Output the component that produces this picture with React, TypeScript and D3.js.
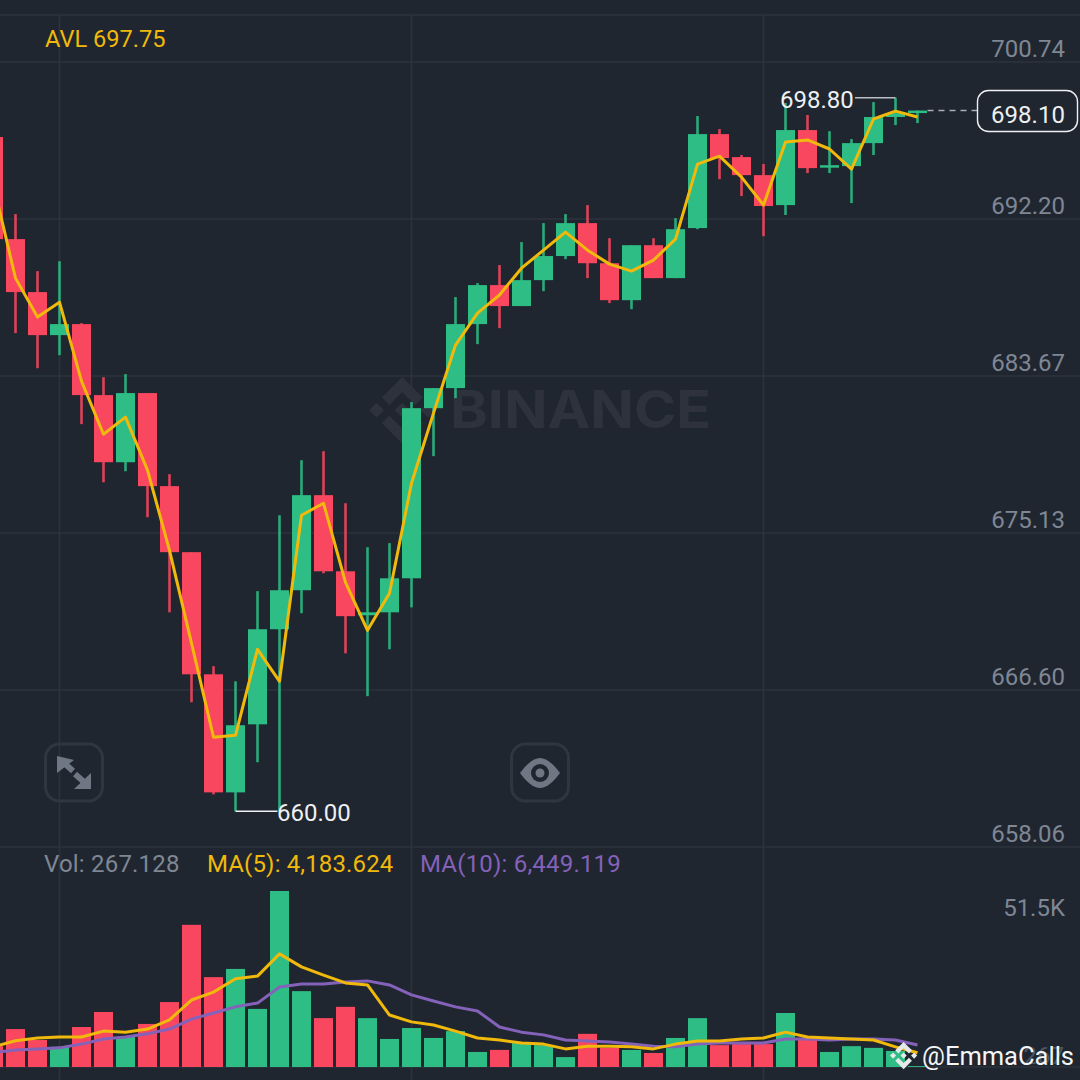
import { useEffect, useRef } from 'react';
import * as d3 from 'd3';

const SIZE = 1080;

// candle data, oldest first
const opens = [696.66, 691.11, 688.23, 685.89, 686.49, 682.63, 678.98, 682.74, 677.68, 674.09, 667.45, 661.03, 664.73, 669.9, 672.02, 677.19, 673.05, 670.66, 670.82, 672.67, 681.92, 683.01, 686.49, 688.61, 687.47, 688.88, 690.19, 691.98, 689.8, 687.79, 690.78, 688.99, 691.71, 696.82, 695.57, 694.59, 692.96, 697.04, 695.03, 695.08, 696.33, 697.75, 698.0];
const closes = [691.11, 688.23, 685.89, 686.49, 682.63, 678.98, 682.74, 677.68, 674.09, 667.45, 661.03, 664.68, 669.9, 672.02, 677.19, 673.05, 670.61, 670.82, 672.67, 681.92, 683.01, 686.49, 688.61, 687.47, 688.88, 690.19, 691.98, 689.8, 687.79, 690.78, 688.99, 691.65, 696.82, 695.52, 694.59, 692.91, 697.04, 694.97, 695.13, 696.33, 697.75, 697.96, 698.1];
const highs = [696.66, 692.47, 689.37, 689.91, 686.54, 683.6, 683.77, 682.74, 678.33, 674.09, 667.89, 667.07, 671.97, 676.1, 679.09, 679.58, 676.75, 674.36, 674.58, 682.25, 683.01, 687.96, 688.72, 689.7, 690.95, 691.98, 692.47, 692.96, 691.16, 690.78, 691.16, 692.25, 697.8, 697.09, 695.68, 695.19, 698.51, 697.86, 696.98, 696.55, 698.56, 698.8, 698.1];
const lows = [691.11, 686.0, 684.09, 684.8, 681.05, 677.89, 678.49, 675.99, 670.82, 665.93, 660.92, 660.0, 662.67, 660.0, 670.77, 672.94, 668.59, 666.26, 668.81, 671.09, 679.31, 682.46, 685.4, 686.27, 687.47, 688.28, 690.02, 688.99, 687.63, 687.3, 688.99, 688.99, 691.65, 694.37, 693.45, 691.27, 692.42, 694.7, 694.7, 693.07, 695.68, 697.31, 697.42];
const avl = [694.05, 688.99, 686.87, 687.68, 683.39, 680.5, 681.43, 678.55, 674.19, 669.14, 664.03, 664.13, 668.81, 667.07, 676.1, 676.75, 672.45, 669.84, 671.86, 677.84, 681.65, 685.35, 687.09, 688.07, 689.53, 690.51, 691.49, 690.51, 689.75, 689.37, 689.97, 691.11, 695.19, 695.62, 694.48, 692.96, 696.39, 696.5, 696.01, 694.92, 697.64, 698.07, 697.75];

// volume in thousands
const volumes = [6.1, 11.1, 7.9, 5.9, 11.7, 16.1, 8.8, 12.6, 19.0, 41.6, 26.3, 28.7, 17.0, 51.5, 22.2, 14.3, 17.6, 14.3, 8.2, 11.4, 8.5, 10.5, 4.4, 5.0, 7.0, 6.4, 2.9, 9.7, 5.6, 5.0, 4.1, 8.5, 14.3, 6.4, 6.7, 6.7, 15.8, 8.5, 4.4, 6.1, 5.6, 4.7, 0.267];
const volMa5 = [5.9, 7.7, 8.5, 8.8, 8.8, 10.5, 10.2, 11.1, 13.8, 19.6, 21.9, 25.8, 26.6, 33.1, 29.3, 26.9, 24.6, 24.0, 15.2, 13.2, 12.3, 10.5, 8.5, 7.9, 7.0, 6.7, 5.3, 6.1, 6.1, 5.9, 5.3, 6.7, 7.6, 7.6, 8.2, 8.5, 10.2, 8.8, 8.5, 8.2, 7.9, 5.9, 4.18];
const volMa10 = [4.2, 5.0, 5.3, 5.6, 6.7, 8.2, 8.8, 9.7, 11.1, 14.0, 15.8, 17.6, 18.7, 23.4, 24.3, 24.3, 24.9, 25.2, 24.0, 21.1, 19.3, 17.6, 16.4, 11.7, 10.2, 9.4, 7.9, 7.6, 7.3, 6.7, 6.1, 5.9, 6.7, 7.0, 7.0, 7.0, 8.2, 8.2, 7.9, 8.2, 8.2, 7.9, 6.45];

const priceTicks = ['700.74', '692.20', '683.67', '675.13', '666.60', '658.06'];
const verticalGridIndex = [3, 19, 35];

const BG = '#1f2630';
const GRID = '#2d333d';
const GREEN = '#2ebd85';
const RED = '#f8475f';
const YELLOW = '#f0b90b';
const PURPLE = '#8562b9';
const GRAY = '#7f8794';
const WHITE = '#eef0f2';
const ICON = '#6f7785';
const FONT = 'Roboto, sans-serif';

const LOGO_OUTER =
  'M38.73 53.2l24.59-24.58 24.6 24.6 14.3-14.31L63.32 0 24.42 38.9zM0 63.31l14.3-14.31 14.31 14.31-14.31 14.3zM38.73 73.41l24.59 24.59 24.6-24.6 14.31 14.29-38.9 38.91-38.91-38.88-.02-.02zM98 63.31l14.3-14.31 14.31 14.3-14.31 14.32z';
const LOGO_CENTER = 'M77.83 63.3L63.32 48.78 48.81 63.28l14.51 14.5z';

export default function App() {
  const svgRef = useRef<SVGSVGElement>(null);

  useEffect(() => {
    if (!svgRef.current) return;
    const svg = d3.select(svgRef.current);
    svg.selectAll('*').remove();

    const x = d3.scaleLinear().domain([0, 42]).range([-6.5, 917.5]);
    const yPrice = d3.scaleLinear().domain([658.06, 700.74]).range([847, 62]);
    const yVol = d3.scaleLinear().domain([0, 51.5]).range([1067, 891]);
    const bodyWidth = 19;
    const indexes = d3.range(opens.length);

    svg.append('rect').attr('width', SIZE).attr('height', SIZE).attr('fill', BG);

    // grid
    const grid = svg.append('g').attr('stroke', GRID).attr('stroke-width', 1.6);
    priceTicks.forEach((t) => {
      grid.append('line').attr('x1', 0).attr('x2', SIZE).attr('y1', yPrice(+t)).attr('y2', yPrice(+t));
    });
    grid.append('line').attr('x1', 0).attr('x2', SIZE).attr('y1', 15).attr('y2', 15);
    grid.append('line').attr('x1', 0).attr('x2', SIZE).attr('y1', 1067).attr('y2', 1067);
    verticalGridIndex.forEach((i) => {
      grid.append('line').attr('x1', x(i)).attr('x2', x(i)).attr('y1', 15).attr('y2', SIZE);
    });

    // watermark
    const mark = svg.append('g').attr('fill', '#2d323d');
    const markLogo = mark.append('g').attr('transform', 'translate(369,377) scale(0.525)');
    markLogo.append('path').attr('d', LOGO_OUTER);
    markLogo.append('path').attr('d', LOGO_CENTER);
    mark
      .append('text')
      .attr('x', 450)
      .attr('y', 428)
      .attr('font-family', 'Inter, sans-serif')
      .attr('font-weight', 700)
      .attr('font-size', 52)
      .attr('textLength', 261)
      .attr('lengthAdjust', 'spacingAndGlyphs')
      .text('BINANCE');

    const dirColor = (i: number) => (closes[i] >= opens[i] ? GREEN : RED);

    // candles
    svg
      .append('g')
      .selectAll('line')
      .data(indexes)
      .enter()
      .append('line')
      .attr('x1', (i) => x(i))
      .attr('x2', (i) => x(i))
      .attr('y1', (i) => yPrice(highs[i]))
      .attr('y2', (i) => yPrice(lows[i]))
      .attr('stroke', dirColor)
      .attr('stroke-opacity', 0.88)
      .attr('stroke-width', 2.6);

    svg
      .append('g')
      .selectAll('rect')
      .data(indexes)
      .enter()
      .append('rect')
      .attr('x', (i) => x(i) - bodyWidth / 2)
      .attr('width', bodyWidth)
      .attr('y', (i) => yPrice(Math.max(opens[i], closes[i])))
      .attr('height', (i) => Math.max(2.5, Math.abs(yPrice(opens[i]) - yPrice(closes[i]))))
      .attr('fill', dirColor);

    // volume bars
    svg
      .append('g')
      .selectAll('rect')
      .data(indexes)
      .enter()
      .append('rect')
      .attr('x', (i) => x(i) - bodyWidth / 2)
      .attr('width', bodyWidth)
      .attr('y', (i) => yVol(volumes[i]))
      .attr('height', (i) => yVol(0) - yVol(volumes[i]))
      .attr('fill', dirColor);

    // lines
    const drawLine = (values: number[], y: d3.ScaleLinear<number, number>, color: string) => {
      const line = d3
        .line<number>()
        .x((_, i) => x(i))
        .y((d) => y(d));
      svg
        .append('path')
        .attr('d', line(values))
        .attr('fill', 'none')
        .attr('stroke', color)
        .attr('stroke-width', 3)
        .attr('stroke-linejoin', 'round');
    };
    drawLine(volMa10, yVol, PURPLE);
    drawLine(volMa5, yVol, YELLOW);
    drawLine(avl, yPrice, YELLOW);

    const addText = (
      str: string,
      px: number,
      py: number,
      color: string,
      size = 24,
      anchor = 'start',
      spacing = 0,
    ) =>
      svg
        .append('text')
        .attr('x', px)
        .attr('y', py)
        .attr('fill', color)
        .attr('font-family', FONT)
        .attr('font-size', size)
        .attr('letter-spacing', spacing)
        .attr('text-anchor', anchor)
        .text(str);

    // price axis
    priceTicks.forEach((t) => addText(t, 1065, yPrice(+t) - 5, GRAY, 24, 'end'));
    addText('51.5K', 1065, 916, GRAY, 24, 'end');
    addText('267', 1064, 1064, '#4c535f', 24, 'end');

    // legends
    addText('AVL 697.75', 45, 47, YELLOW, 23.6);
    addText('Vol: 267.128', 44, 872, GRAY, 24, 'start', 0.2);
    addText('MA(5): 4,183.624', 207, 872, YELLOW, 24, 'start', 0.15);
    addText('MA(10): 6,449.119', 420, 872, PURPLE, 24, 'start', 0.2);

    // low marker
    svg
      .append('path')
      .attr('d', `M${x(11)},${yPrice(660)}H${x(13) - 2}`)
      .attr('stroke', WHITE)
      .attr('stroke-width', 1.6)
      .attr('fill', 'none');
    addText('660.00', 277, 821, WHITE);

    // high marker
    svg
      .append('path')
      .attr('d', `M${x(41)},${yPrice(698.8)}H855`)
      .attr('stroke', '#b9bec6')
      .attr('stroke-width', 1.6)
      .attr('fill', 'none');
    addText('698.80', 780, 108, WHITE);

    // last price
    svg
      .append('line')
      .attr('x1', x(42) + 10)
      .attr('x2', 977)
      .attr('y1', yPrice(698.1))
      .attr('y2', yPrice(698.1))
      .attr('stroke', '#a8adb6')
      .attr('stroke-width', 1.5)
      .attr('stroke-dasharray', '6 5');
    svg
      .append('rect')
      .attr('x', 977.5)
      .attr('y', 90.5)
      .attr('width', 100)
      .attr('height', 41)
      .attr('rx', 11)
      .attr('fill', BG)
      .attr('stroke', WHITE)
      .attr('stroke-width', 1.4);
    addText('698.10', 1028, 123, WHITE, 24, 'middle');

    // expand button
    const expand = svg.append('g');
    expand
      .append('rect')
      .attr('x', 45.5)
      .attr('y', 744)
      .attr('width', 57)
      .attr('height', 57)
      .attr('rx', 14)
      .attr('fill', 'none')
      .attr('stroke', '#303640')
      .attr('stroke-width', 3);
    expand.append('path').attr('d', 'M57,756L74,760L57,773Z').attr('fill', ICON);
    expand.append('path').attr('d', 'M91,789L74,789L91,773Z').attr('fill', ICON);
    expand
      .append('path')
      .attr('d', 'M64,763L73,771M75,774L84,782')
      .attr('stroke', ICON)
      .attr('stroke-width', 6)
      .attr('fill', 'none');

    // eye button
    const eye = svg.append('g');
    eye
      .append('rect')
      .attr('x', 511.5)
      .attr('y', 744)
      .attr('width', 57)
      .attr('height', 57)
      .attr('rx', 14)
      .attr('fill', 'none')
      .attr('stroke', '#303640')
      .attr('stroke-width', 3);
    eye
      .append('path')
      .attr('d', 'M520,773Q531,758 540,758Q549,758 560,773Q549,788 540,788Q531,788 520,773Z')
      .attr('fill', ICON);
    eye.append('circle').attr('cx', 540).attr('cy', 773).attr('r', 9).attr('fill', BG);
    eye.append('circle').attr('cx', 540).attr('cy', 773).attr('r', 4.5).attr('fill', ICON);

    // user tag
    const tagLogo = svg.append('g').attr('transform', 'translate(890,1042) scale(0.215)').attr('fill', '#e6e8ea');
    tagLogo.append('path').attr('d', LOGO_OUTER);
    tagLogo.append('path').attr('d', LOGO_CENTER);
    addText('@EmmaCalls', 922, 1065, '#f4f5f6', 25.5);
  }, []);

  return (
    <svg
      ref={svgRef}
      width={SIZE}
      height={SIZE}
      style={{ position: 'absolute', left: 0, top: 0, display: 'block' }}
    />
  );
}
